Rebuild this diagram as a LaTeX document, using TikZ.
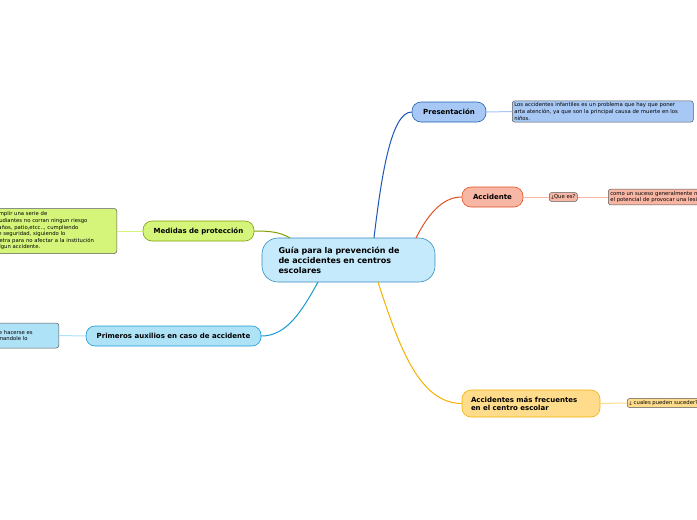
\documentclass[tikz,border=0pt]{standalone}
\usepackage{fontspec}
\setmainfont{DejaVu Sans}
\begin{document}
\begin{tikzpicture}[x=1pt,y=-1pt,
 main/.style={draw,rounded corners=9pt,line width=0.6pt,font=\fontsize{7}{8.5}\selectfont\bfseries,inner sep=2pt,align=center},
 leaf/.style={draw=gray!70!black,rounded corners=2.5pt,line width=0.5pt,font=\fontsize{5.3}{6.6}\selectfont,inner sep=2pt,align=left,anchor=west},
 conn/.style={line width=1pt},
 thin/.style={line width=1pt}]
\useasboundingbox (0,0) rectangle (697,520);
\clip (0,0) rectangle (697,520);
\definecolor{cb}{HTML}{C5EAFB}\definecolor{cbd}{HTML}{3A8AC0}
\definecolor{pb}{HTML}{A7C8F5}\definecolor{pbd}{HTML}{2060B0}
\definecolor{ab}{HTML}{F8B6A4}\definecolor{abd}{HTML}{E05020}
\definecolor{fb}{HTML}{FEDC8C}\definecolor{fbd}{HTML}{F4B000}
\definecolor{mb}{HTML}{D4F57A}\definecolor{mbd}{HTML}{80A000}
\definecolor{qb}{HTML}{AEE2F7}\definecolor{qbd}{HTML}{1A9AD0}

\node[draw=cbd,fill=cb,rounded corners=16pt,line width=0.6pt,minimum width=173pt,minimum height=44pt,font=\fontsize{8}{10}\selectfont\bfseries,align=left,text width=140pt] (c) at (348.5,260) {Guía para la prevención de\\de accidentes en centros\\escolares};

\node[main,draw=pbd,fill=pb,minimum width=74pt,minimum height=20pt] (p) at (449,112) {Presentación};
\node[leaf,fill=pb,text width=177pt] (pt) at (512,111.5) {Los accidentes infantiles es un problema que hay que poner\\arta atención, ya que son la principal causa de muerte en los\\niños.};

\node[main,draw=abd,fill=ab,minimum width=61pt,minimum height=20pt] (a) at (492.5,197) {Accidente};
\node[leaf,fill=ab] (q) at (549,197) {¿Que es?};
\node[leaf,fill=ab,text width=175pt] (qt) at (608,197) {como un suceso generalmente no deseado que tiene\\el potencial de provocar una lesión};

\node[main,draw=fbd,fill=fb,minimum width=138pt,minimum height=27pt,align=left,text width=120pt] (f) at (531,403.5) {Accidentes más frecuentes\\en el centro escolar};
\node[leaf,fill=fb] (ft) at (627,403) {¿ cuales pueden suceder?};

\node[main,draw=mbd,fill=mb,minimum width=111pt,minimum height=20pt] (m) at (198.5,231) {Medidas de protección};
\node[leaf,fill=mb,anchor=east,text width=180pt,minimum height=45pt] (mt) at (117,231) {El centro escolar debe cmplir una serie de\\normas para que los estudiantes no corran ningun riesgo\\en las aulas escolares,baños, patio,etcc.., cumpliendo\\con toda la normativa de seguridad, siguiendo lo\\establecido al pie de la letra para no afectar a la institución\\ni al alumno si sucede algun accidente.};

\node[main,draw=qbd,fill=qb,minimum width=175pt,minimum height=20pt] (r) at (173.5,336) {Primeros auxilios en caso de accidente};
\node[leaf,fill=qb,anchor=east,text width=110pt,minimum height=25pt] (rt) at (59,335.5) {Lo primero que debe hacerse es\\calmar al herido llamandole lo};

\draw[conn,draw=pbd!90!blue] (374,238) .. controls (382,170) and (392,112) .. (p.west);
\draw[conn,draw=abd] (416,238) .. controls (430,210) and (445,197) .. (a.west);
\draw[conn,draw=fbd] (378,282) .. controls (400,350) and (420,403) .. (f.west);
\draw[conn,draw=mbd] (290,238) .. controls (280,232) and (270,231) .. (m.east);
\draw[conn,draw=qbd] (318,282) .. controls (300,315) and (285,336) .. (r.east);

\draw[thin,draw=pb] (p.east) -- (pt.west);
\draw[thin,draw=ab] (a.east) -- (q.west);
\draw[thin,draw=ab] (q.east) -- (qt.west);
\draw[thin,draw=fb] (f.east) -- (ft.west);
\draw[thin,draw=mb] (m.west) -- (mt.east);
\draw[thin,draw=qb] (r.west) -- (rt.east);
\end{tikzpicture}
\end{document}
